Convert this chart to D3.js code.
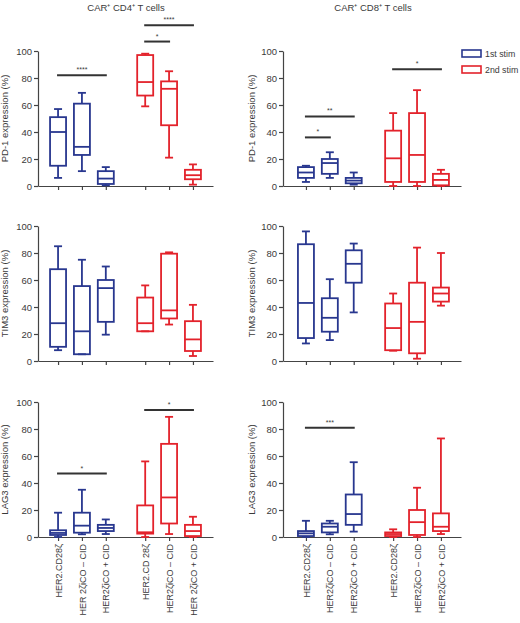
<!DOCTYPE html>
<meta charset="utf-8">
<title>checkpoint expression</title>
<style>
body {
  margin: 0px;
  background: #fff;
}
text {
  font-family: "Liberation Sans", Arial, sans-serif;
  fill: #3a3a3a;
}
.axis path, .axis line {
  stroke: #444;
  stroke-width: 1.2px;
}
.axis text {
  font-size: 9.5px;
  fill: #3a3a3a;
}
</style>
<script src="https://d3js.org/d3.v7.min.js"></script>
<body>
<script>
var width = 520, height = 623;

// the six groups, left to right
var catsLeft = ["HER2.CD28ζ", "HER 2ζiCO – CID", "HER2ζiCO + CID", "HER2.CD 28ζ", "HER2ζiCO – CID", "HER 2ζiCO + CID"];
var catsRight = ["HER2.CD28ζ", "HER2ζiCO – CID", "HER2ζiCO + CID", "HER2.CD28ζ", "HER2ζiCO – CID", "HER2ζiCO + CID"];
var slots = [0, 1, 2, 3.65, 4.65, 5.65];
var stim = ["1st stim", "1st stim", "1st stim", "2nd stim", "2nd stim", "2nd stim"];
var yTicks = [0, 20, 40, 60, 80, 100];
var titles = ["CAR\u207A CD4\u207A T cells", "CAR\u207A CD8\u207A T cells"];
var markers = ["PD-1", "TIM3", "LAG3"];

// box stats: [min, q1, median, q3, max]
var pd1Cd4 = [[6, 15, 40, 51, 57], [11, 23, 29, 61, 69], [0.5, 1.5, 5.5, 11, 14],
              [59, 67, 77, 97, 98], [21, 45, 72, 77.5, 85], [1, 5, 8, 12, 16]];
var pd1Cd8 = [[3, 6, 10, 14, 15], [6, 9, 17, 20, 25], [1, 2, 4, 6, 10],
              [0, 3, 20.5, 41, 54], [0, 3, 23, 54, 71], [0, 0.5, 4.5, 9, 12]];
var tim3Cd4 = [[8, 10.5, 28, 68, 85], [5, 5, 22, 55.5, 75], [19.5, 29, 54, 60, 70],
               [22, 22, 28, 47, 56], [27, 31.5, 37.5, 79.5, 80.5], [3.7, 7.4, 16, 29.5, 41.6]];
var tim3Cd8 = [[13, 17, 43, 86.5, 96], [15.5, 21.7, 32, 46.5, 60.6], [36, 58, 72, 82, 87],
               [7.6, 8, 24.4, 42.6, 50], [1.7, 5.7, 29, 58, 84], [41, 44, 50, 54.4, 80]];
var lag3Cd4 = [[0, 1.5, 3, 5, 18], [2, 3.2, 8.4, 18, 35], [2.2, 4.4, 6.7, 9, 13],
               [0, 2.5, 3.5, 23.4, 56], [2.2, 10, 29.3, 69, 89], [0, 0.7, 4.4, 9, 15]];
var lag3Cd8 = [[0, 0.7, 2.7, 4.4, 12], [2, 3.4, 7.6, 10, 12], [4, 9, 17, 31.5, 55.4],
               [0, 0.7, 2.2, 3.4, 5.7], [0, 1.5, 11, 20, 36.5], [2.2, 4.4, 7.6, 17.5, 73]];

// significance bars: [from group, to group, level, stars]
var sigPd1Cd4 = [[0, 2, 82, "****"], [3, 4, 107, "*"], [3, 5, 119, "****"]];
var sigPd1Cd8 = [[0, 1, 36, "*"], [0, 2, 51.5, "**"], [3, 5, 86.5, "*"]];
var sigTim3Cd4 = [];
var sigTim3Cd8 = [];
var sigLag3Cd4 = [[0, 2, 47, "*"], [3, 5, 94, "*"]];
var sigLag3Cd8 = [[0, 2, 81, "***"]];

var panels = [
  [pd1Cd4, sigPd1Cd4, pd1Cd8, sigPd1Cd8],
  [tim3Cd4, sigTim3Cd4, tim3Cd8, sigTim3Cd8],
  [lag3Cd4, sigLag3Cd4, lag3Cd8, sigLag3Cd8]
];

var color = d3.scaleOrdinal()
  .domain(["1st stim", "2nd stim"])
  .range(["#28378f", "#e3222b"]);

var rowTop = [51, 226, 402];
var rowH = 135;
var colX = [[38, 213, -0.84, 6.49], [283, 461, -0.96, 6.49]];
var boxW = 16, capW = 8;

var svg = d3.select("body").append("svg")
    .attr("width", width)
    .attr("height", height);

// column titles
svg.selectAll("text.title")
    .data(titles)
  .enter().append("text")
    .attr("class", "title")
    .attr("x", function(d, i) { return i == 0 ? 126 : 373; })
    .attr("y", 11)
    .attr("text-anchor", "middle")
    .style("font-size", "9.5px")
    .text(function(d) { return d; });

panels.forEach(function(row, r) {
  for (var c = 0; c < 2; c++) {
    var boxes = row[c * 2], sigs = row[c * 2 + 1];
    var cats = c == 0 ? catsLeft : catsRight;
    var y = d3.scaleLinear().domain([0, 100]).range([rowTop[r] + rowH, rowTop[r]]);
    var x = d3.scaleLinear().domain([colX[c][2], colX[c][3]]).range([colX[c][0], colX[c][1]]);
    var g = svg.append("g");

    g.append("g")
        .attr("class", "axis")
        .attr("transform", "translate(" + colX[c][0] + ",0)")
        .call(d3.axisLeft(y).tickValues(yTicks).tickSize(4).tickSizeOuter(0).tickPadding(2));

    var xAxis = d3.axisBottom(x).tickValues(slots).tickSize(4).tickSizeOuter(0)
        .tickFormat(function(d, i) { return r == 2 ? cats[i] : ""; });
    var xg = g.append("g")
        .attr("class", "axis")
        .attr("transform", "translate(0," + y(0) + ")")
        .call(xAxis);
    if (r == 2) {
      xg.selectAll(".tick text")
          .attr("transform", "rotate(-90)")
          .attr("text-anchor", "end")
          .attr("x", -7)
          .attr("y", 0)
          .attr("dy", "0.35em")
          .style("font-size", "9px");
    }

    // y label
    g.append("text")
        .attr("transform", "translate(" + (c == 0 ? 8 : 255) + "," + (rowTop[r] + rowH / 2) + ") rotate(-90)")
        .attr("text-anchor", "middle")
        .style("font-size", "9.5px")
        .text(markers[r] + " expression (%)");

    var bx = g.selectAll("g.box")
        .data(boxes)
      .enter().append("g")
        .attr("class", "box")
        .style("stroke", function(d, i) { return color(stim[i]); })
        .style("stroke-width", "1.8px")
        .style("fill", "none");

    bx.append("line")
        .attr("x1", function(d, i) { return x(slots[i]); })
        .attr("x2", function(d, i) { return x(slots[i]); })
        .attr("y1", function(d) { return y(d[0]); })
        .attr("y2", function(d) { return y(d[4]); });
    bx.append("rect")
        .attr("x", function(d, i) { return x(slots[i]) - boxW / 2; })
        .attr("width", boxW)
        .attr("y", function(d) { return y(d[3]); })
        .attr("height", function(d) { return Math.max(y(d[1]) - y(d[3]), 0.5); })
        .style("fill", "#fff");
    bx.append("line")
        .attr("x1", function(d, i) { return x(slots[i]) - boxW / 2; })
        .attr("x2", function(d, i) { return x(slots[i]) + boxW / 2; })
        .attr("y1", function(d) { return y(d[2]); })
        .attr("y2", function(d) { return y(d[2]); });
    [0, 4].forEach(function(k) {
      bx.append("line")
          .attr("x1", function(d, i) { return x(slots[i]) - capW / 2; })
          .attr("x2", function(d, i) { return x(slots[i]) + capW / 2; })
          .attr("y1", function(d) { return y(d[k]); })
          .attr("y2", function(d) { return y(d[k]); });
    });

    var sg = g.selectAll("g.sig")
        .data(sigs)
      .enter().append("g")
        .attr("class", "sig");
    sg.append("line")
        .attr("x1", function(d) { return x(slots[d[0]]) - 1; })
        .attr("x2", function(d) { return x(slots[d[1]]) + 1; })
        .attr("y1", function(d) { return y(d[2]); })
        .attr("y2", function(d) { return y(d[2]); })
        .style("stroke", "#333")
        .style("stroke-width", "2px");
    sg.append("text")
        .attr("x", function(d) { return (x(slots[d[0]]) + x(slots[d[1]])) / 2; })
        .attr("y", function(d) { return y(d[2]) - 3; })
        .attr("text-anchor", "middle")
        .style("font-size", "7px")
        .text(function(d) { return d[3]; });
  }
});

// legend
var legend = svg.append("g").attr("class", "legend");
var lg = legend.selectAll("g")
    .data(color.domain())
  .enter().append("g")
    .attr("transform", function(d, i) { return "translate(462," + (50 + i * 16) + ")"; });
lg.append("rect")
    .attr("width", 19)
    .attr("height", 7)
    .style("fill", "none")
    .style("stroke", function(d) { return color(d); })
    .style("stroke-width", "1.6px");
lg.append("text")
    .attr("x", 23)
    .attr("y", 7)
    .style("font-size", "8.8px")
    .text(function(d) { return d; });
</script>
